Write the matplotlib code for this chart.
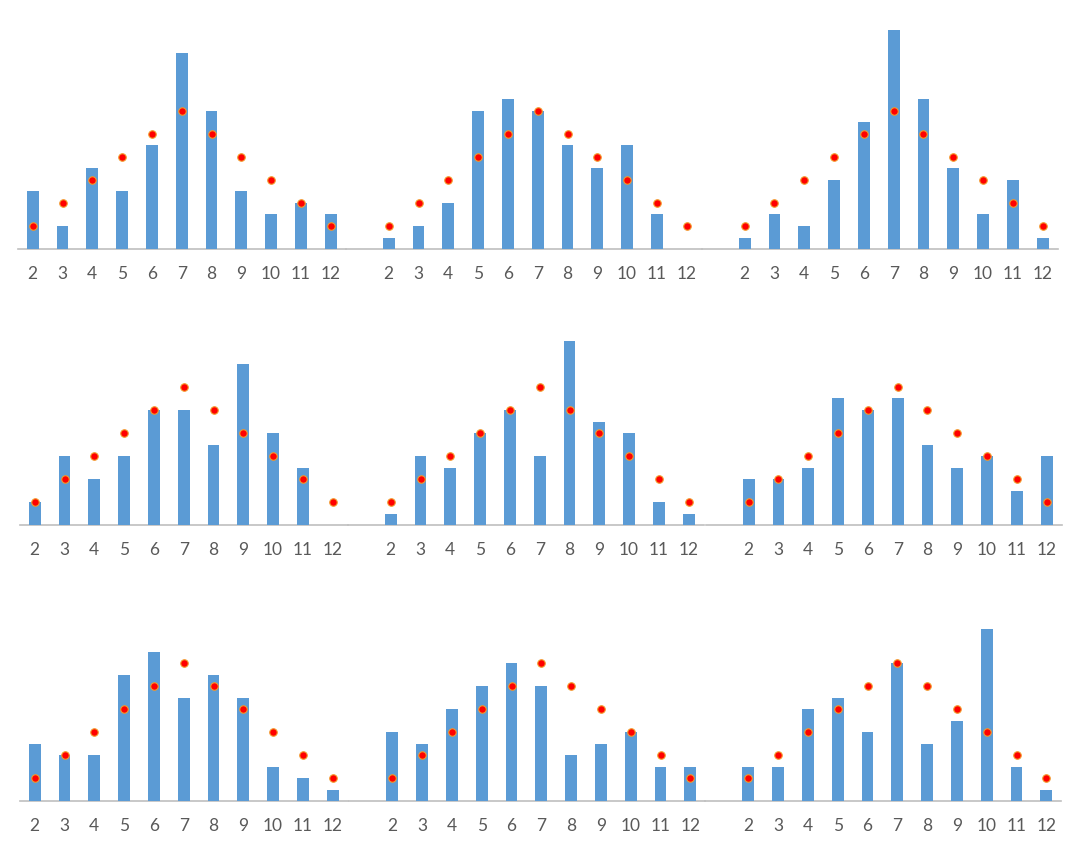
import matplotlib
matplotlib.use('Agg')
import matplotlib.pyplot as plt

# dice sums on the x axis
sums = [2, 3, 4, 5, 6, 7, 8, 9, 10, 11, 12]

# expected counts out of 36 throws (red dots)
expected = [1, 2, 3, 4, 5, 6, 5, 4, 3, 2, 1]

# observed counts, one list per panel (read row by row)
obs_1 = [2.5, 1, 3.5, 2.5, 4.5, 8.5, 6, 2.5, 1.5, 2, 1.5]
obs_2 = [0.5, 1, 2, 6, 6.5, 6, 4.5, 3.5, 4.5, 1.5, 0]
obs_3 = [0.5, 1.5, 1, 3, 5.5, 9.5, 6.5, 3.5, 1.5, 3, 0.5]
obs_4 = [1, 3, 2, 3, 5, 5, 3.5, 7, 4, 2.5, 0]
obs_5 = [0.5, 3, 2.5, 4, 5, 3, 8, 4.5, 4, 1, 0.5]
obs_6 = [2, 2, 2.5, 5.5, 5, 5.5, 3.5, 2.5, 3, 1.5, 3]
obs_7 = [2.5, 2, 2, 5.5, 6.5, 4.5, 5.5, 4.5, 1.5, 1, 0.5]
obs_8 = [3, 2.5, 4, 5, 6, 5, 2, 2.5, 3, 1.5, 1.5]
obs_9 = [1.5, 1.5, 4, 4.5, 3, 6, 2.5, 3.5, 7.5, 1.5, 0.5]

panels = [obs_1, obs_2, obs_3, obs_4, obs_5, obs_6, obs_7, obs_8, obs_9]

W, H = 1078, 846
# left edge of each plot area in pixels, and axis baseline per row
lefts = [17.8, 373.8, 729.8, 19.8, 375.8, 733.8, 19.8, 377.4, 733.4]
bases = [249, 525, 801]
unit = 23.0
ymax = 10.0
pw = 29.8 * len(sums)

fig = plt.figure(figsize=(W / 100, H / 100), dpi=100)

for i, obs in enumerate(panels):
    row, col = divmod(i, 3)
    base = bases[row]
    ax = fig.add_axes([lefts[i] / W, (H - base) / H, pw / W, unit * ymax / H])
    x = list(range(len(sums)))
    ax.bar(x, obs, width=0.4, color='#5B9BD5', zorder=2)
    ax.plot(x, expected, 'o', color='#FF0000', markeredgecolor='#F39A2A',
            markeredgewidth=0.8, markersize=5.4, zorder=3)
    ax.set_xlim(-0.5, len(sums) - 0.5)
    ax.set_ylim(0, ymax)
    ax.set_xticks(x)
    ax.set_xticklabels([str(s) for s in sums], fontsize=12.5, color='#595959',
                       family=['Lato', 'DejaVu Sans'])
    ax.tick_params(axis='x', length=0, pad=12.5)
    ax.set_yticks([])
    for s in ax.spines.values():
        s.set_visible(False)
    ext = 0.0 if col == 0 else 28 / pw
    ax.plot([-ext, 1.0], [0, 0], transform=ax.transAxes, color='#BFBFBF',
            linewidth=1.2, clip_on=False, zorder=1)
    ax.patch.set_alpha(0)

fig.savefig('out.png', dpi=100)
